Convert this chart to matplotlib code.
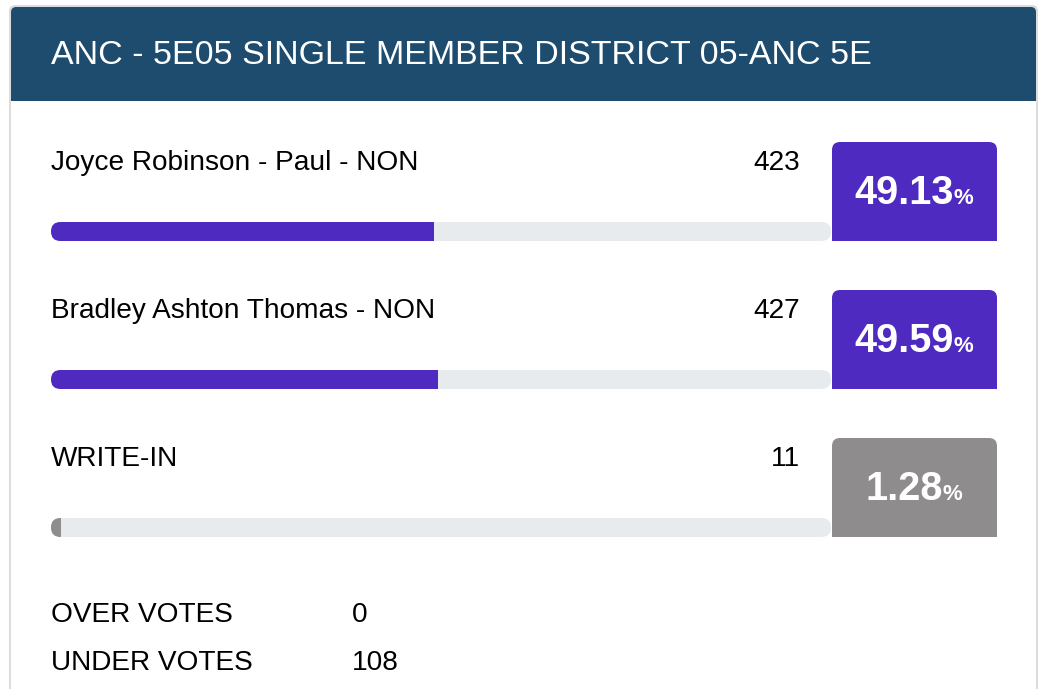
import matplotlib
matplotlib.use('Agg')
import matplotlib.pyplot as plt
from matplotlib.patches import FancyBboxPatch, Rectangle
from matplotlib.offsetbox import TextArea, HPacker, AnnotationBbox

plt.rcParams['font.family'] = ['Liberation Sans', 'DejaVu Sans']

title = 'ANC - 5E05 SINGLE MEMBER DISTRICT 05-ANC 5E'
names = ['Joyce Robinson - Paul - NON', 'Bradley Ashton Thomas - NON', 'WRITE-IN']
votes = [423, 427, 11]
pcts = [49.13, 49.59, 1.28]
colors = ['#4e2ac1', '#4e2ac1', '#8e8c8d']
extra_labels = ['OVER VOTES', 'UNDER VOTES']
extra_values = [0, 108]

W, H = 1053, 689
fig = plt.figure(figsize=(W / 100, H / 100), dpi=100)
ax = fig.add_axes([0, 0, 1, 1])
ax.set_xlim(0, W)
ax.set_ylim(H, 0)
ax.axis('off')

# card + header
ax.add_patch(FancyBboxPatch((10, 6), 1027, 720, boxstyle='round,pad=0,rounding_size=5',
                            fc='white', ec='#d6d6d6', lw=1.2))
ax.add_patch(FancyBboxPatch((11, 7), 1025, 94, boxstyle='round,pad=0,rounding_size=5',
                            fc='#1d4c6e', ec='none'))
ax.add_patch(Rectangle((11, 30), 1025, 71, fc='#1d4c6e', ec='none'))
ax.text(51, 64, title, color='white', fontsize=24.5, va='baseline')

track_x, track_w, bar_h = 51, 780, 19
row_step = 148
for i, (name, v, p, c) in enumerate(zip(names, votes, pcts, colors)):
    top = 142 + i * row_step
    ax.text(51, top + 28, name, fontsize=20.2, va='baseline', color='#000000')
    ax.text(800, top + 28, str(v), fontsize=20.2, va='baseline', ha='right', color='#000000')

    by = top + 80
    track = FancyBboxPatch((track_x, by), track_w, bar_h,
                           boxstyle='round,pad=0,rounding_size=9.5', fc='#e8ebee', ec='none')
    ax.add_patch(track)
    bars = ax.barh([by + bar_h / 2], [p / 100 * track_w], left=track_x, height=bar_h,
                   color=c, edgecolor='none')
    for b in bars:
        b.set_clip_path(track)

    # percentage box
    ax.add_patch(FancyBboxPatch((832, top), 165, 99, boxstyle='round,pad=0,rounding_size=8',
                                fc=c, ec='none'))
    ax.add_patch(Rectangle((832, top + 20), 165, 79, fc=c, ec='none'))
    pack = HPacker(children=[
        TextArea(f'{p:.2f}', textprops=dict(color='white', fontsize=28.5, fontweight='bold')),
        TextArea('%', textprops=dict(color='white', fontsize=16, fontweight='bold')),
    ], align='baseline', pad=0, sep=0)
    ax.add_artist(AnnotationBbox(pack, (914, top + 51), frameon=False,
                                 box_alignment=(0.5, 0.5)))

for j, (lab, val) in enumerate(zip(extra_labels, extra_values)):
    y = 622 + j * 48
    ax.text(51, y, lab, fontsize=20.2, va='baseline', color='#000000')
    ax.text(352, y, str(val), fontsize=20.2, va='baseline', color='#000000')

fig.savefig('out.png', dpi=100)
